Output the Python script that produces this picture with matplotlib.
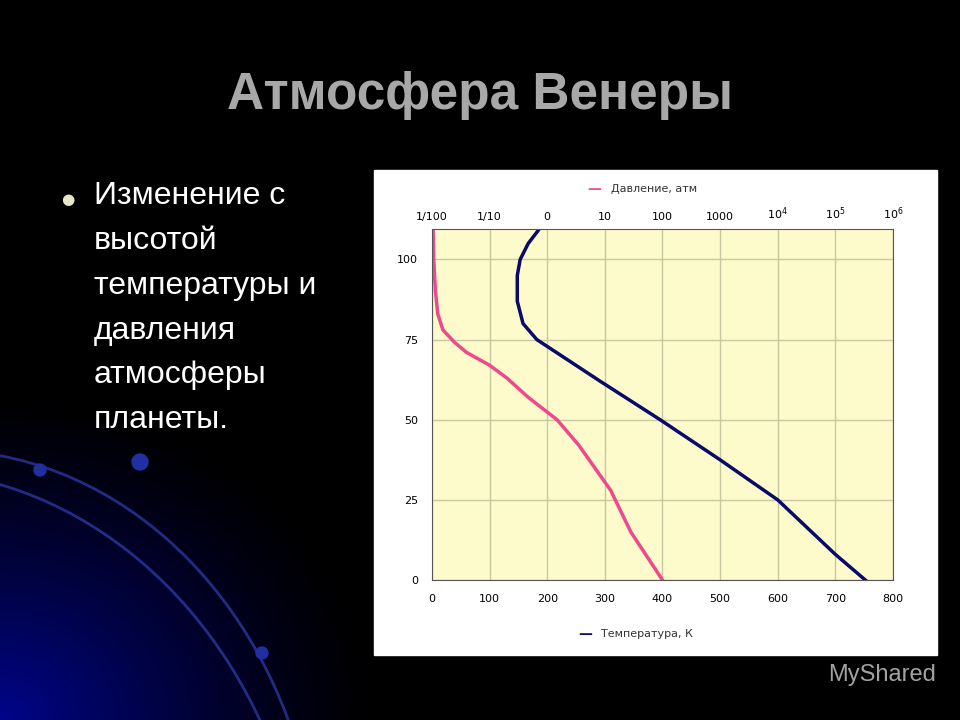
import numpy as np
import matplotlib
matplotlib.use("Agg")
import matplotlib.pyplot as plt
from matplotlib.patches import Rectangle, Arc

# Data
temp_h = [0, 8, 25, 37.5, 50, 62, 75, 80, 87, 95, 100, 105, 109]
temp_T = [752, 700, 600, 500, 396, 292, 182, 158, 148, 148, 153, 167, 184]
pres_h = [0, 15, 28, 42, 50, 57, 63, 67, 71, 74, 78, 83, 90, 100, 109]
pres_x = [400, 345, 310, 255, 217, 167, 130, 100, 60, 40, 19, 10, 6, 3, 2]
bottom_ticks = [0, 100, 200, 300, 400, 500, 600, 700, 800]
top_labels = ["1/100", "1/10", "0", "10", "100", "1000", "$10^4$", "$10^5$", "$10^6$"]
y_ticks = [0, 25, 50, 75, 100]

fig = plt.figure(figsize=(9.6, 7.2), dpi=100)
fig.patch.set_facecolor("black")

bg = fig.add_axes([0, 0, 1, 1])
bg.set_xlim(0, 960); bg.set_ylim(720, 0); bg.axis("off")
yy, xx = np.mgrid[0:720, 0:960]
d = np.sqrt(((xx - 0) / 380.0) ** 2 + ((yy - 720) / 330.0) ** 2)
a = np.clip(1 - d, 0, 1) ** 1.3
img = np.zeros((720, 960, 4))
img[..., 2] = 0.55
img[..., 1] = 0.02
img[..., 3] = a
bg.imshow(img, extent=(0, 960, 720, 0), zorder=0)
for (cx, cy, w, h, t1, t2) in [(-60, 900, 760, 900, 270, 340), (-100, 950, 820, 960, 270, 335)]:
    bg.add_patch(Arc((cx, cy), w, h, theta1=t1, theta2=t2, color="#3040b0", lw=2, alpha=0.7))
for (px, py, r) in [(40, 470, 6), (140, 462, 8), (262, 653, 6)]:
    bg.add_patch(plt.Circle((px, py), r, color="#2030a0"))

fig.text(0.5, 0.868, "Атмосфера Венеры", ha="center", va="center", color="#a8a8a8",
         fontsize=37, fontweight="bold", family="Liberation Sans")
fig.text(0.064, 0.723, "●", color="#e8e8c8", fontsize=11, va="center")
fig.text(0.098, 0.748, "Изменение с\nвысотой\nтемпературы и\nдавления\nатмосферы\nпланеты.",
         color="white", fontsize=23, va="top", ha="left", family="Liberation Sans", linespacing=1.64)
fig.text(0.975, 0.062, "MyShared", color="#cccccc", fontsize=17, ha="right", va="center",
         family="Liberation Sans", alpha=0.8)

bg.add_patch(Rectangle((374, 170), 563, 485, color="white", zorder=1))

ax = fig.add_axes([0.45, 0.1944, 0.4802, 0.4875])
ax.set_facecolor("#fdfbcc")
ax.set_xlim(0, 800); ax.set_ylim(0, 109.5)
ax.grid(True, color="#c8c8a0", lw=1)
ax.set_xticks(bottom_ticks); ax.set_yticks(y_ticks)
ax.tick_params(length=0, labelsize=8, pad=10)
ax.plot(temp_T, temp_h, color="#0a0a6a", lw=2.5)
ax.plot(pres_x, pres_h, color="#f0488c", lw=2.5)
for s in ax.spines.values():
    s.set_color("#555555")
ax2 = ax.twiny()
ax2.set_xlim(0, 800)
ax2.set_xticks(bottom_ticks)
ax2.set_xticklabels(top_labels)
ax2.tick_params(length=0, labelsize=8, pad=5)
for s in ax2.spines.values():
    s.set_visible(False)

fig.text(0.612, 0.738, "—", color="#f0488c", fontsize=10, va="center", fontweight="bold")
fig.text(0.636, 0.738, "Давление, атм", color="#333333", fontsize=8, va="center")
fig.text(0.602, 0.119, "—", color="#0a0a6a", fontsize=10, va="center", fontweight="bold")
fig.text(0.626, 0.119, "Температура, К", color="#333333", fontsize=8, va="center")

fig.savefig("out.png", dpi=100, facecolor="black")
